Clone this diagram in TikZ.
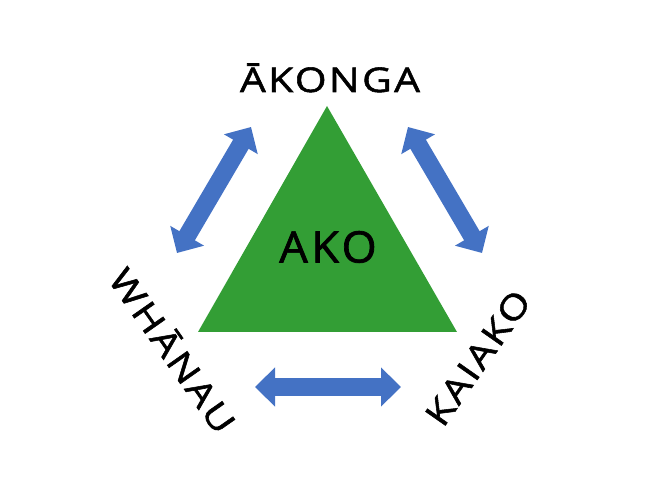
\documentclass[tikz,border=0pt]{standalone}
\usepackage{fontspec}
\setmainfont{Open Sans}
\usetikzlibrary{arrows.meta}
\definecolor{AkoGreen}{HTML}{339E35}
\definecolor{AkoBlue}{HTML}{4472C4}

\begin{document}
\begin{tikzpicture}[x=1pt,y=-1pt,
    role/.style={font=\fontsize{34}{40}\selectfont\addfontfeatures{LetterSpace=7,FakeStretch=1.2,FakeBold=1.6},text height=24pt,text depth=0pt,inner sep=0pt},
    link/.style={AkoBlue,line width=18pt,{Triangle[width=38pt,length=20pt]}-{Triangle[width=38pt,length=20pt]}}]
  \useasboundingbox (0,0) rectangle (657,500);
  \fill[AkoGreen] (327,106) -- (198,332) -- (457,332) -- cycle;
  \node[font=\fontsize{43.4}{50}\selectfont\addfontfeatures{LetterSpace=8,FakeStretch=1.04,FakeBold=1.6},text height=31pt,text depth=0pt,inner sep=0pt] (ako) at (328,247) {AKO};
  \node[role] (akonga) at (330,80) {ĀKONGA};
  \node[role,rotate=-55] (whanau) at (172,351) {WHĀNAU};
  \node[role,rotate=55] (kaiako) at (478,358) {KAIAKO};
  \coordinate (wl) at (177,253); \coordinate (al) at (251,127);
  \coordinate (ar) at (408,127); \coordinate (kr) at (482,253);
  \coordinate (wb) at (255,387); \coordinate (kb) at (401,387);
  \draw[link] (wl) -- (al);
  \draw[link] (ar) -- (kr);
  \draw[link] (wb) -- (kb);
\end{tikzpicture}
\end{document}
